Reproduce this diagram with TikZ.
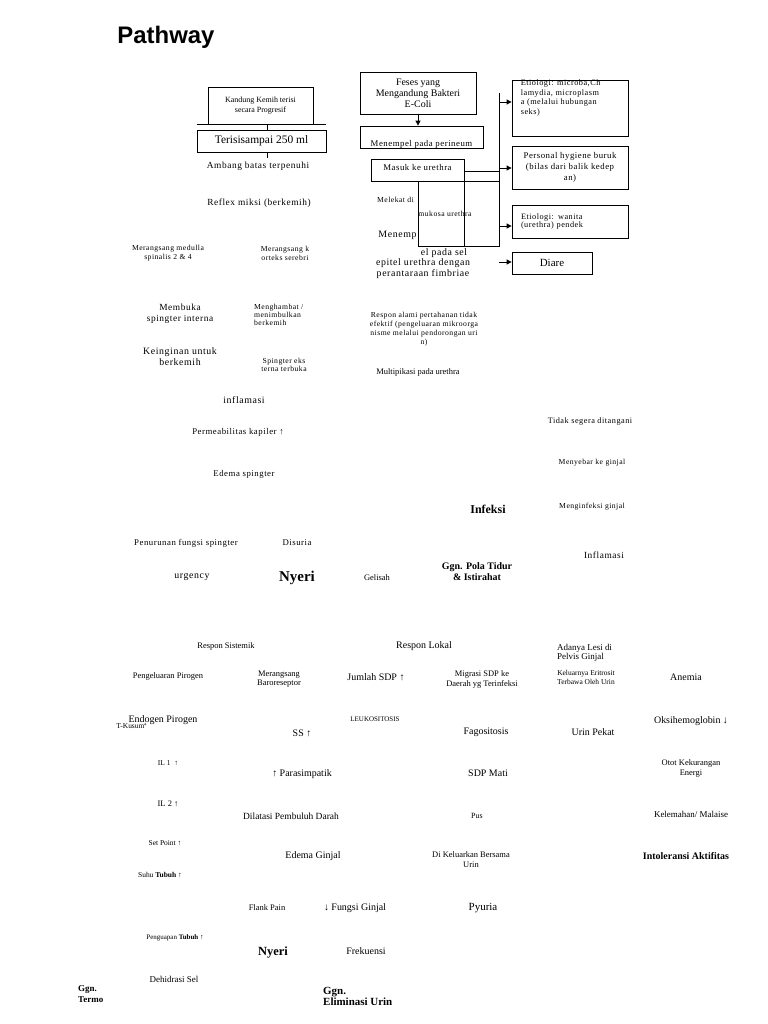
\documentclass[tikz,border=0pt]{standalone}
\usepackage{fontspec}
\setmainfont{Liberation Serif}
\newfontfamily\spc[LetterSpace=6]{Liberation Serif}
\newfontfamily\judul{Liberation Sans}
\usetikzlibrary{arrows.meta}

\tikzset{
  fs/.style 2 args={font=\fontsize{#1}{#2}\selectfont},
  sp/.style 2 args={font=\spc\fontsize{#1}{#2}\selectfont},
  bs/.style 2 args={font=\bfseries\fontsize{#1}{#2}\selectfont},
  kotak/.style={draw, line width=0.8bp},
  arr/.style={-{Triangle[length=5bp,width=5bp]}, line width=0.8bp},
}

\begin{document}
\begin{tikzpicture}[x=1bp,y=-1bp,inner sep=0pt,align=center]
        \useasboundingbox (0,0) rectangle (768,1024);
        \node[font=\judul\bfseries\fontsize{24}{24}\selectfont] (title) at (166,37) {Pathway};

        % kotak bagian atas
        \node[kotak, fs={8}{10}, minimum width=105bp, minimum height=37bp] (kandung) at (260.5,105.5) {Kandung Kemih terisi\\secara Progresif};
        \node[kotak, fs={11.5}{13}, minimum width=129bp, minimum height=22bp] (terisi) at (261.5,141) {Terisisampai 250 ml};
        \node[kotak, fs={10}{11}, minimum width=116bp, minimum height=42bp] (feses) at (418,93) {Feses yang\\Mengandung Bakteri\\E-Coli};
        \node[kotak, sp={8.8}{10}, minimum width=123bp, text height=20.5bp, text depth=1.5bp] (perineum) at (421.5,137) {Menempel pada perineum};
        \node[kotak, sp={8.8}{10}, minimum width=93bp, minimum height=22bp, text height=6bp, text depth=4.5bp] (masuk) at (417.5,170) {Masuk ke urethra};
        \node[kotak, minimum width=116bp, minimum height=56bp,
              label={[sp={8.3}{9.7}, align=left, anchor=north west, xshift=9bp]north west:Etiologi: microba,Ch\\lamydia, microplasm\\a (melalui hubungan\\seks)}] (etioA) at (570,108) {};
        \node[kotak, sp={8.8}{11}, minimum width=116bp, minimum height=43bp] (hygiene) at (570,167.5) {Personal hygiene buruk\\(bilas dari balik kedep\\an)};
        \node[kotak, sp={8.3}{9}, align=left, text width=98bp, minimum width=116bp, minimum height=33bp] (etioB) at (570,221.5) {Etiologi: wanita\\(urethra) pendek};
        \node[kotak, fs={11}{12}, minimum width=80bp, minimum height=22bp] (diare) at (552,263) {Diare};

        % garis dan panah
        \draw[line width=0.8bp] (kandung.south -| terisi.west) -- (kandung.south -| terisi.east);
        \draw[line width=0.8bp] ([xshift=5.5bp]terisi.north) -- ++(0,-5);
        \draw[line width=0.8bp] ([xshift=5.5bp]terisi.south) -- ++(0,6);
        \draw[arr] (feses.south) -- (feses.south |- perineum.north);
        \coordinate (tA) at (499,93);
        \coordinate (tB) at (499,246);
        \coordinate (pA) at (499,102);
        \coordinate (pB) at (499,168);
        \coordinate (pC) at (499,226);
        \coordinate (pD) at (499,262);
        \draw[line width=0.8bp] (tA) -- (tB) -- (tB -| 418,0) -- (masuk.south -| 418,0);
        \draw[line width=0.8bp] (masuk.south east) -- (masuk.south east |- tB);
        \draw[line width=0.8bp] (masuk.south east) -- (masuk.south east -| tA);
        \draw[line width=0.8bp] ([yshift=-1bp]masuk.east) -- ([yshift=-1bp]masuk.east -| tA);
        \draw[arr] (pA) -- (pA -| etioA.west);
        \draw[arr] (pB) -- (pB -| hygiene.west);
        \draw[arr] (pC) -- (pC -| etioB.west);
        \draw[arr] (pD) -- (pD -| diare.west);

        % kolom kiri atas
        \node[sp={9.4}{10}] (ambang) at (258,166) {Ambang batas terpenuhi};
        \node[sp={9.4}{10}] (reflex) at (259,203) {Reflex miksi (berkemih)};
        \node[sp={7.7}{9}] (medulla) at (168,253.5) {Merangsang medulla\\spinalis 2 \& 4};
        \node[sp={7.7}{9}] (korteks) at (285,253.5) {Merangsang k\\orteks serebri};
        \node[sp={9.4}{11}] (membuka) at (180,313.5) {Membuka\\spingter interna};
        \node[sp={7.7}{8}, align=left, anchor=west] (hambat) at (254,315) {Menghambat /\\menimbulkan\\berkemih};
        \node[sp={9.9}{11}] (ingin) at (180,356.5) {Keinginan untuk\\berkemih};
        \node[sp={7.7}{8}] (eksterna) at (284,365) {Spingter eks\\terna terbuka};
        \node[sp={9.9}{10}] (inflamA) at (244,400) {inflamasi};
        \node[sp={8.8}{10}] (kapiler) at (238,432) {Permeabilitas kapiler ↑};
        \node[sp={8.8}{10}] (edemaS) at (244,474) {Edema spingter};
        \node[sp={8.8}{10}] (turun) at (186,543) {Penurunan fungsi spingter};
        \node[sp={8.8}{10}] (disuria) at (297,543) {Disuria};
        \node[sp={9.9}{10}] (urgency) at (192,577) {urgency};
        \node[bs={15}{16}] (nyeriA) at (297,578) {Nyeri};
        \node[fs={8.5}{10}] (gelisah) at (377,578) {Gelisah};
        \node[bs={10}{11}] (tidur) at (477,571.5) {Ggn. Pola Tidur\\\& Istirahat};

        % kolom tengah atas
        \node[sp={7.7}{9}] (melekat) at (395.5,200) {Melekat di};
        \node[sp={7.7}{9}] (mukosa) at (445,214) {mukosa urethra};
        \node[sp={9.9}{10}] (menemp) at (397.5,235) {Menemp};
        \node[sp={9.9}{10}] (elpada) at (444,253) {el pada sel};
        \node[sp={9.9}{10.5}] (epitel) at (423,268.5) {epitel urethra dengan\\perantaraan fimbriae};
        \node[sp={7.7}{9}] (alami) at (424,329.5) {Respon alami pertahanan tidak\\efektif (pengeluaran mikroorga\\nisme melalui pendorongan uri\\n)};
        \node[fs={8.5}{10}] (multi) at (418,372) {Multipikasi pada urethra};
        \node[sp={8.3}{9}] (segera) at (590,422) {Tidak segera ditangani};
        \node[sp={7.7}{9}] (menyebar) at (592,463) {Menyebar ke ginjal};
        \node[bs={12}{13}] (infeksi) at (488,509) {Infeksi};
        \node[sp={7.7}{9}] (menginfeksi) at (592,507) {Menginfeksi ginjal};
        \node[sp={9.4}{10}] (inflamB) at (604,555) {Inflamasi};

        % bagian bawah
        \node[fs={8.5}{10}] (sistemik) at (226,646) {Respon Sistemik};
        \node[fs={10}{11}] (lokal) at (424,646) {Respon Lokal};
        \node[fs={9}{9}, align=left, anchor=west] (lesi) at (557,652.5) {Adanya Lesi di\\Pelvis Ginjal};
        \node[fs={8.5}{10}] (pirogen) at (168,676) {Pengeluaran Pirogen};
        \node[fs={8.5}{8.5}] (baro) at (279,679) {Merangsang\\Baroreseptor};
        \node[fs={10}{11}] (jumlah) at (376,677) {Jumlah SDP ↑};
        \node[fs={8.5}{10}] (migrasi) at (482,679) {Migrasi SDP ke\\Daerah yg Terinfeksi};
        \node[fs={7.5}{8.5}] (eritrosit) at (586,677.5) {Keluarnya Eritrosit\\Terbawa Oleh Urin};
        \node[fs={10}{11}] (anemia) at (686,677) {Anemia};
        \node[fs={10}{11}] (endogen) at (163,720) {Endogen Pirogen};
        \node[fs={7.5}{8}] (kusum) at (131.5,726) {T-Kusumª};
        \node[fs={7}{8}] (leuko) at (375,719) {LEUKOSITOSIS};
        \node[fs={10}{11}] (oksi) at (691,721) {Oksihemoglobin ↓};
        \node[fs={10}{11}] (ss) at (302,733) {SS ↑};
        \node[fs={10}{11}] (fago) at (486,732) {Fagositosis};
        \node[fs={10}{11}] (pekat) at (593,732) {Urin Pekat};
        \node[fs={7.5}{8}] (ilA) at (168,763) {IL 1 \ ↑};
        \node[fs={10}{11}] (para) at (302,774) {↑ Parasimpatik};
        \node[fs={8.5}{10}] (otot) at (691,768) {Otot Kekurangan\\Energi};
        \node[fs={10}{11}] (mati) at (488,773) {SDP Mati};
        \node[fs={8.5}{10}] (ilB) at (168,804) {IL 2 ↑};
        \node[fs={9.5}{11}] (dilatasi) at (291,816) {Dilatasi Pembuluh Darah};
        \node[fs={8}{9}] (pus) at (477,816) {Pus};
        \node[fs={9}{10}] (lemah) at (691,814) {Kelemahan/ Malaise};
        \node[fs={7.5}{8}] (setpoint) at (165,843) {Set Point ↑};
        \node[fs={10}{11}] (edemaG) at (313,856) {Edema Ginjal};
        \node[fs={8.5}{10}] (keluar) at (471,860) {Di Keluarkan Bersama\\Urin};
        \node[bs={10}{11}] (intoleransi) at (686,856) {Intoleransi Aktifitas};
        \node[fs={7.5}{8}] (suhu) at (160,875) {Suhu \textbf{Tubuh} ↑};
        \node[fs={8.5}{10}] (flank) at (267,908) {Flank Pain};
        \node[fs={10}{11}] (fungsi) at (355,908) {↓ Fungsi Ginjal};
        \node[fs={11}{12}] (pyuria) at (483,908) {Pyuria};
        \node[fs={7}{8}] (uap) at (175,938) {Penguapan \textbf{Tubuh} ↑};
        \node[bs={12.5}{13}] (nyeriB) at (273,953) {Nyeri};
        \node[fs={10}{11}] (frek) at (366,951) {Frekuensi};
        \node[fs={9}{10}] (dehidrasi) at (174,979) {Dehidrasi Sel};
        \node[bs={9}{11}, align=left, anchor=west] (termo) at (78,994.5) {Ggn.\\Termo};
        \node[bs={11}{11}, align=left, anchor=west] (eliminasi) at (323,996) {Ggn.\\Eliminasi Urin};
\end{tikzpicture}
\end{document}
